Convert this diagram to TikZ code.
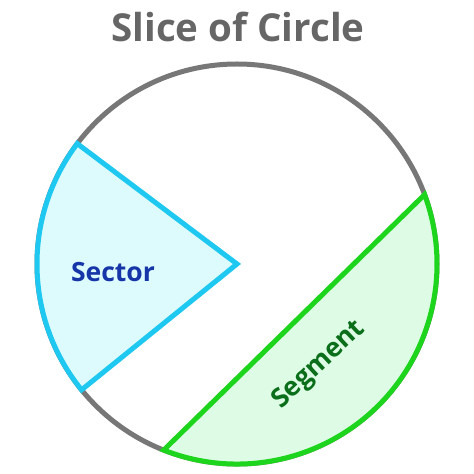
\documentclass[tikz,border=0pt]{standalone}
\usepackage{fontspec}
\setmainfont{Open Sans}
\usetikzlibrary{calc}
\definecolor{rimgray}{HTML}{777777}
\definecolor{titlegray}{HTML}{666666}
\definecolor{sectline}{HTML}{1EC8F0}
\definecolor{sectfill}{HTML}{DDFBFD}
\definecolor{secttext}{HTML}{1535A8}
\definecolor{segline}{HTML}{1ED51E}
\definecolor{segfill}{HTML}{DDFBE5}
\definecolor{segtext}{HTML}{0B6E1A}
\tikzset{
  rim/.style={draw=rimgray, line width=5pt},
  sectorshape/.style={draw=sectline, fill=sectfill, line width=5pt, line join=miter},
  segmentshape/.style={draw=segline, fill=segfill, line width=5pt, line join=miter},
  label/.style={font=\bfseries, inner sep=0pt}
}
\begin{document}
\begin{tikzpicture}[x=1pt,y=1pt]
\useasboundingbox (0,0) rectangle (474,474);
\fill[white] (0,0) rectangle (474,474);
\def\R{200}
\coordinate (c) at (237,210);
\node[label, text=titlegray, font=\fontsize{38.5}{42}\selectfont\bfseries] (title) at (238,447) {Slice of Circle};
\draw[rim] (c) circle[radius=\R];
\coordinate (sa) at ($(c)+(143:\R)$);
\draw[sectorshape] (c) -- (sa) arc[start angle=143, end angle=219, radius=\R] -- cycle;
\coordinate (ga) at ($(c)+(248.5:\R)$);
\draw[segmentshape] (ga) arc[start angle=248.5, end angle=380.3, radius=\R] -- cycle;
\node[label, text=secttext, font=\fontsize{26.5}{30}\selectfont\bfseries] (sector) at (113,202) {Sector};
\node[label, text=segtext, font=\fontsize{26.5}{30}\selectfont\bfseries, rotate=43] (segment) at (319,109) {Segment};
\end{tikzpicture}
\end{document}
